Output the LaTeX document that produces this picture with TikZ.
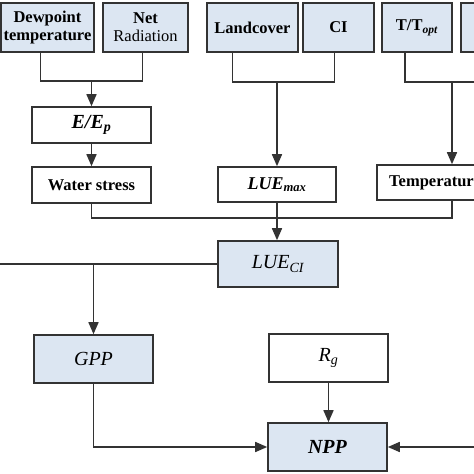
\documentclass[tikz,border=0pt]{standalone}
\usepackage{fontspec}
\setmainfont{Liberation Serif}
\usetikzlibrary{arrows.meta}
\definecolor{boxblue}{HTML}{DCE6F2}
\definecolor{linegray}{HTML}{333333}
\tikzset{
  blk/.style={draw=linegray, line width=1.6pt, inner sep=0pt, align=center,
    font=\fontsize{16.5}{18}\selectfont},
  wbox/.style={blk, fill=white},
  bbox/.style={blk, fill=boxblue},
  big/.style={font=\fontsize{20}{22}\selectfont},
  conn/.style={draw=linegray, line width=1.6pt},
  arr/.style={conn, -{Triangle[length=12pt,width=10pt]}}
}
\begin{document}
\begin{tikzpicture}[x=1pt,y=-1pt]
  \useasboundingbox (0,0) rectangle (474,474);
  \clip (0,0) rectangle (474,474);

  % Eingangsgroessen
  \begin{scope}[minimum height=49pt]
    \node[bbox, minimum width=93pt] (dew) at (47.5,27.5) {\textbf{Dewpoint}\\\textbf{temperature}};
    \node[bbox, minimum width=85pt] (net) at (145.5,27.5) {\textbf{Net}\\Radiation};
    \node[bbox, minimum width=91pt] (land) at (252.5,27.5) {\textbf{Landcover}};
    \node[bbox, minimum width=71pt] (ci) at (338.5,27.5) {\textbf{CI}};
    \node[bbox, minimum width=70pt] (topt) at (417,27.5) {\textbf{T/T\textsubscript{\textit{opt}}}};
    \node[bbox, minimum width=78pt] (extra) at (500,27.5) {};
  \end{scope}

  \node[wbox, big, minimum width=119pt, minimum height=36pt] (ep) at (91.5,125) {\textbf{\textit{E/E\textsubscript{p}}}};
  \node[wbox, minimum width=119pt, minimum height=36pt] (water) at (91.5,185) {\textbf{Water stress}};
  \node[wbox, font=\fontsize{18}{20}\selectfont, minimum width=118pt, minimum height=35pt] (lmax) at (277,184.5) {\textbf{\textit{LUE\textsubscript{max}}}};
  \node[wbox, minimum width=116pt, minimum height=35pt] (temp) at (435,182.5) {\textbf{Temperature}};

  \node[bbox, big, minimum width=120pt, minimum height=46pt] (lci) at (278,264) {\textit{LUE\textsubscript{CI}}};
  \node[bbox, big, minimum width=119pt, minimum height=48pt] (gpp) at (93.5,359) {\textit{GPP}};
  \node[wbox, big, minimum width=119pt, minimum height=48pt] (rg) at (328.5,358) {\textit{R\textsubscript{g}}};
  \node[bbox, big, minimum width=119pt, minimum height=48pt] (npp) at (327.5,447) {\textbf{\textit{NPP}}};

  % Verbindungen
  \coordinate (j1) at (91.5,81);
  \coordinate (j2) at (277,82);
  \coordinate (j3) at (452,82);
  \draw[conn] ([xshift=-7pt]dew.south) |- (j1) -| ([xshift=-3pt]net.south);
  \draw[arr] (j1) -- (ep.north);
  \draw[arr] (ep.south) -- (water.north);
  \draw[conn] ([xshift=-20pt]land.south) |- (j2) -| ([xshift=-4pt]ci.south);
  \draw[arr] (j2) -- (lmax.north);
  \draw[conn] ([xshift=-12pt]topt.south) |- (j3) -| (extra.south);
  \draw[arr] (j3) -- (j3 |- temp.north);
  \draw[conn] (water.south) -- ++(0,14) -| (j3 |- temp.south);
  \draw[arr] (lmax.south) -- (lmax.south |- lci.north);

  \coordinate (lft) at (0,264);
  \draw[conn] (lft) -- (lci.west);
  \draw[arr] (gpp.north |- lft) -- (gpp.north);
  \draw[arr] (gpp.south) |- (npp.west);
  \draw[arr] (rg.south) -- (rg.south |- npp.north);
  \coordinate (rgt) at (476,447);
  \draw[arr] (rgt) -- (npp.east);
\end{tikzpicture}
\end{document}
